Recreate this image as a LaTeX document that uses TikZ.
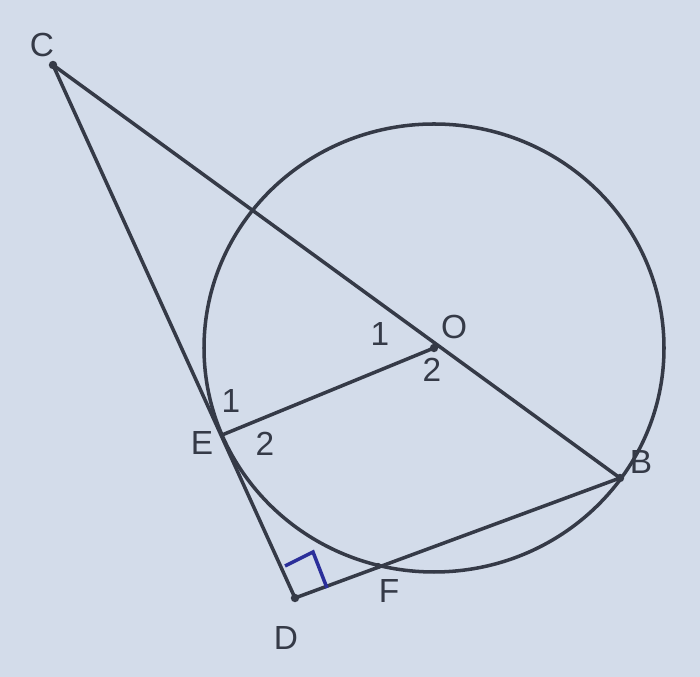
\documentclass[tikz,border=0pt]{standalone}
\usepackage{fontspec}
\setmainfont{Liberation Sans}
\definecolor{bg}{HTML}{D3DCEA}
\definecolor{ink}{HTML}{353A47}
\definecolor{markblue}{HTML}{2B2F9A}
\begin{document}
\begin{tikzpicture}[x=0.01cm,y=-0.01cm,
  geo/.style={draw=ink,line width=1pt,line cap=round,line join=round},
  lbl/.style={text=ink,font=\fontsize{9.5}{11}\selectfont,inner sep=0pt},
  pt/.style={fill=ink,circle,inner sep=0pt,minimum size=2.4pt}]
\fill[bg] (0,0) rectangle (700,677);
\useasboundingbox (0,0) rectangle (700,677);
% points
\coordinate (C) at (53,65);
\coordinate (O) at (434,348);
\coordinate (B) at (620,478);
\coordinate (E) at (222,435);
\coordinate (D) at (295,598);
\coordinate (F) at (378,566);
\coordinate (R1) at (285,566);
\coordinate (R2) at (313,552);
\coordinate (R3) at (327,588);
% circle
\draw[geo] (O) ellipse [x radius=230, y radius=224];
% segments
\draw[geo] (C) -- (B);
\draw[geo] (C) -- (D);
\draw[geo] (D) -- (B);
\draw[geo] (E) -- (O);
% right angle mark
\draw[draw=markblue,line width=1pt,line join=miter] (R1) -- (R2) -- (R3);
% dots
\node[pt] (Cd) at (C) {};
\node[pt] (Od) at (O) {};
\node[pt] (Bd) at (B) {};
\node[pt] (Dd) at (D) {};
\node[pt,minimum size=1.8pt] (Fd) at (F) {};
% labels
\node[lbl] (Cl) at (42,45) {C};
\node[lbl] (Ol) at (454,327) {O};
\node[lbl] (Bl) at (641,462) {B};
\node[lbl] (El) at (202,443) {E};
\node[lbl] (Dl) at (286,638) {D};
\node[lbl] (Fl) at (389,591) {F};
\node[lbl] (O1) at (380,334) {1};
\node[lbl] (O2) at (432,370) {2};
\node[lbl] (E1) at (231,401) {1};
\node[lbl] (E2) at (265,444) {2};
\end{tikzpicture}
\end{document}
